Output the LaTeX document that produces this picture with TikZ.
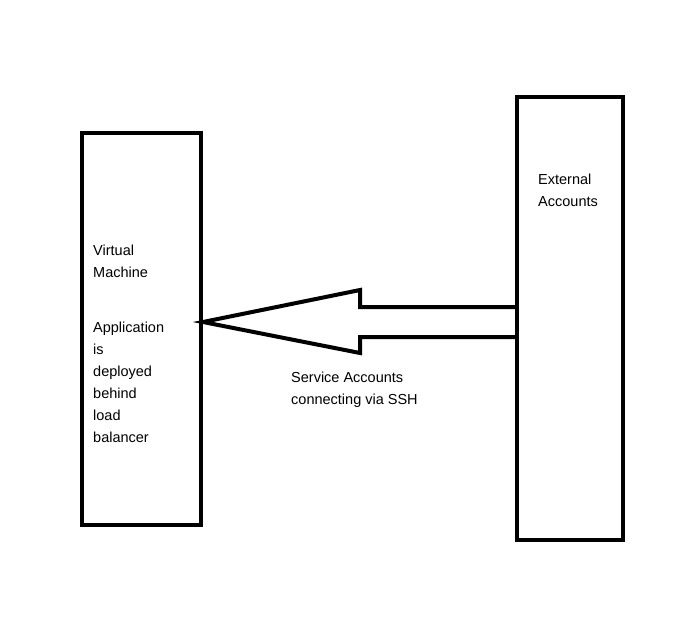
\documentclass[tikz,border=0pt]{standalone}
\usepackage{fontspec}
\setmainfont{Liberation Sans}
\begin{document}
\begin{tikzpicture}[x=1pt,y=-1pt,
  box/.style={draw,line width=4pt,minimum width=#1,inner sep=0pt},
  lbl/.style={anchor=north west,inner sep=0pt,align=left,font=\fontsize{14.5}{22}\selectfont}]
\useasboundingbox (0,0) rectangle (696,616);
\node[box=119pt,minimum height=392pt] (vm) at (141.5,329) {};
\node[box=106pt,minimum height=443pt] (ext) at (570,318.5) {};
\coordinate (tip) at (vm.east |- 0,322);
\draw[line width=4pt,line join=miter] (ext.west |- 0,307) -- (360,307) -- (360,290) -- (tip) -- (360,353) -- (360,337) -- (ext.west |- 0,337);
\node[lbl] (t1) at (93,245) {Virtual\\Machine};
\node[lbl] (t2) at (93,322) {Application\\is\\deployed\\behind\\load\\balancer};
\node[lbl] (t3) at (291,372) {Service Accounts\\connecting via SSH};
\node[lbl] (t4) at (538,174) {External\\Accounts};
\end{tikzpicture}
\end{document}
